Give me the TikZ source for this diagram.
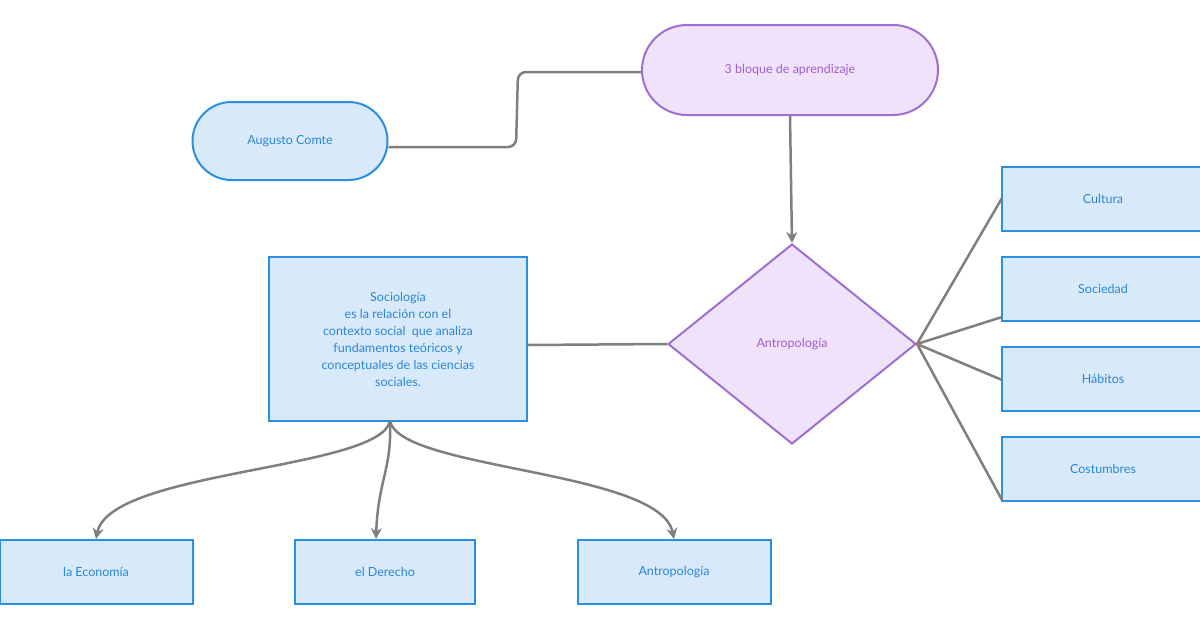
\documentclass[tikz,border=0pt]{standalone}
\usepackage{fontspec}
\setmainfont{Lato}
\usetikzlibrary{shapes.geometric,arrows.meta}
\definecolor{bfill}{HTML}{D8EAF9}
\definecolor{bline}{HTML}{2A8FE0}
\definecolor{btext}{HTML}{2A86D6}
\definecolor{pfill}{HTML}{F1E2FB}
\definecolor{pline}{HTML}{A06ED2}
\definecolor{ptext}{HTML}{9E5FCB}
\definecolor{conn}{HTML}{7F7F7F}
\begin{document}
\begin{tikzpicture}[x=1pt,y=-1pt,
 blue/.style={draw=bline,fill=bfill,line width=2pt,text=btext,font=\fontsize{12.5}{17}\selectfont,inner sep=0pt},
 box/.style={blue,rectangle,minimum width=#1,minimum height=64},
 purp/.style={draw=pline,fill=pfill,line width=2pt,text=ptext,font=\fontsize{12.5}{17}\selectfont,inner sep=0pt},
 c/.style={draw=conn,line width=2.5pt},
 a/.style={c,-{Stealth[length=11pt,width=11pt]}}]
\useasboundingbox (0,0) rectangle (1200,630);
\node[blue,rounded corners=39,minimum width=195,minimum height=78] (comte) at (290,141) {Augusto Comte};
\node[purp,rounded corners=45,minimum width=296,minimum height=90] (bloque) at (790,70) {3 bloque de aprendizaje};
\node[purp,diamond,minimum width=248,minimum height=200,aspect=1.24] (dia) at (792,344) {Antropología};
\node[blue,rectangle,minimum width=258,minimum height=164,align=center] (soc) at (398,339) {Sociología\\es la relación con el\\contexto social~ que analiza\\fundamentos teóricos y\\conceptuales de las ciencias\\sociales.};
\node[box=202] (cul) at (1103,199) {Cultura};
\node[box=202] (sod) at (1103,289) {Sociedad};
\node[box=202] (hab) at (1103,379) {Hábitos};
\node[box=202] (cos) at (1103,469) {Costumbres};
\node[box=193] (eco) at (96,572) {la Economía};
\node[box=180] (der) at (385,572) {el Derecho};
\node[box=193] (ant) at (674,572) {Antropología};
\coordinate (s) at (390,421);
\draw[c,rounded corners=8] (comte.east |- 0,147) -- (516,147) -- (518,72) -- (bloque.west |- 0,72);
\draw[a] (bloque.south) -- (dia.north);
\draw[c] (soc.east |- 0,345) -- (dia.west);
\draw[c] (dia.east) -- (1002,198);
\draw[c] (dia.east) -- (1002,317);
\draw[c] (dia.east) -- (1002,380);
\draw[c] (dia.east) -- (1002,500);
\draw[a] (s) .. controls (380,470) and (110,470) .. (eco.north);
\draw[a] (s) .. controls (392,470) and (378,480) .. (der.north -| 376,0);
\draw[a] (s) .. controls (400,470) and (660,470) .. (ant.north -| 674,0);
\end{tikzpicture}
\end{document}
